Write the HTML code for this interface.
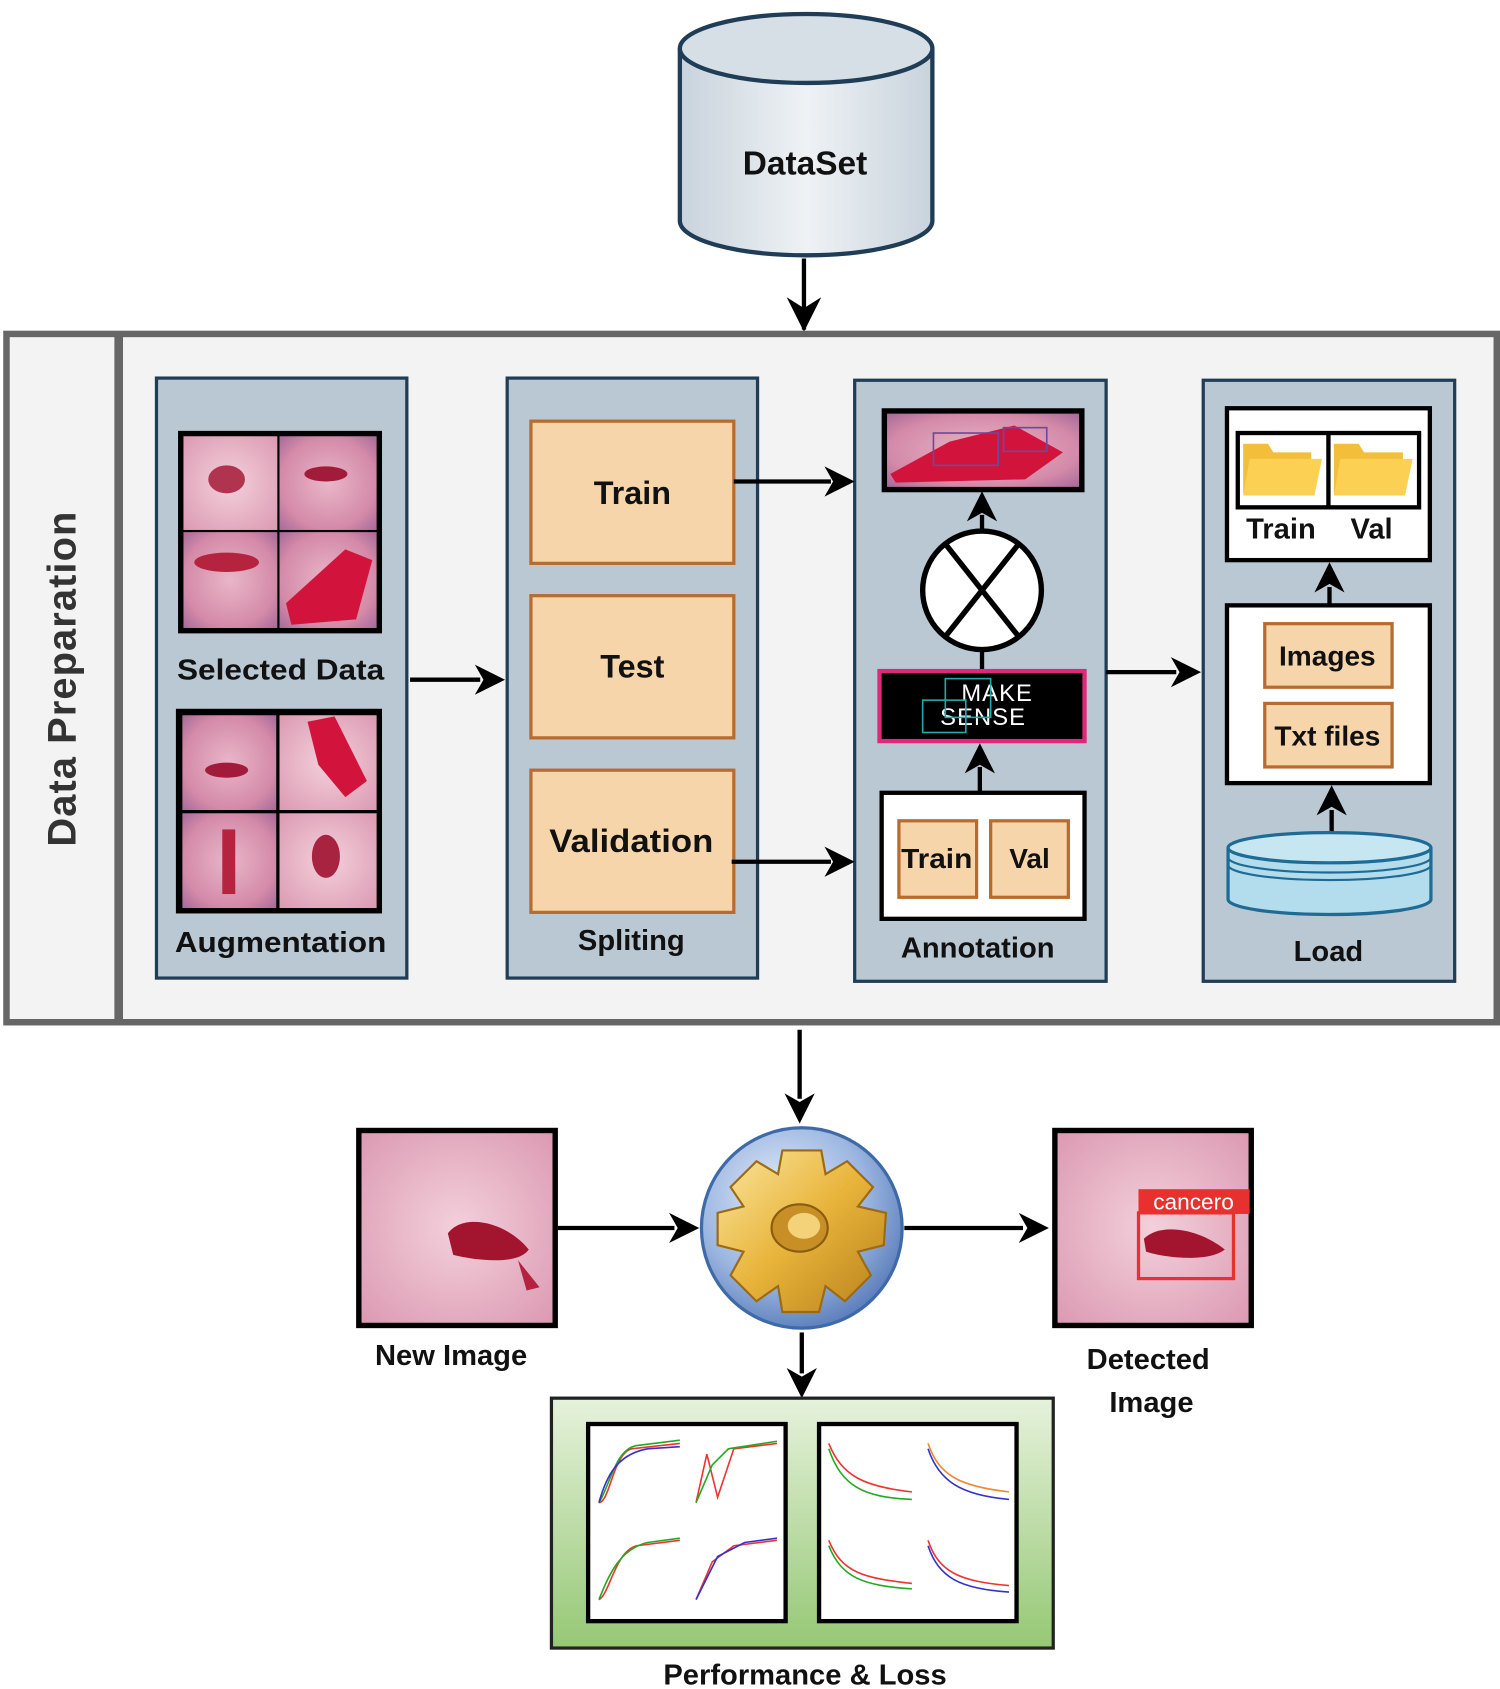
<!DOCTYPE html>
<html><head><meta charset="utf-8"><style>html,body{margin:0;padding:0;background:#fff}svg{display:block}</style></head><body>
<svg width="1500" height="1689" viewBox="0 0 1390 1568" preserveAspectRatio="none" xmlns="http://www.w3.org/2000/svg" font-family="Liberation Sans, DejaVu Sans, sans-serif" font-weight="bold">
<defs>
<linearGradient id="cyl" x1="0" x2="1"><stop offset="0" stop-color="#c9d3dc"/><stop offset="0.5" stop-color="#eef2f5"/><stop offset="1" stop-color="#c9d3dc"/></linearGradient>
<radialGradient id="pink" cx="0.5" cy="0.5" r="0.7"><stop offset="0" stop-color="#e9b6c8"/><stop offset="0.7" stop-color="#d48aa8"/><stop offset="1" stop-color="#a86a9a"/></radialGradient>
<radialGradient id="pinkL" cx="0.5" cy="0.5" r="0.7"><stop offset="0" stop-color="#f3d0db"/><stop offset="1" stop-color="#dc9ab2"/></radialGradient>
<radialGradient id="ball" cx="0.4" cy="0.35" r="0.7"><stop offset="0" stop-color="#e6eefa"/><stop offset="0.6" stop-color="#9bb6e0"/><stop offset="1" stop-color="#5679b8"/></radialGradient>
<linearGradient id="green" x1="0" y1="0" x2="0" y2="1"><stop offset="0" stop-color="#e6f2dc"/><stop offset="1" stop-color="#95c874"/></linearGradient>
<linearGradient id="gold" x1="0" y1="0" x2="1" y2="1"><stop offset="0" stop-color="#fbe7a0"/><stop offset="0.5" stop-color="#e8b43a"/><stop offset="1" stop-color="#b7801c"/></linearGradient>
<marker id="ah" markerWidth="10" markerHeight="10" refX="9" refY="5" orient="auto" markerUnits="userSpaceOnUse" viewBox="0 0 10 10"><path d="M0,0 L10,5 L0,10 L3,5z" fill="#000"/></marker>
</defs>
<style>.ar{stroke:#000;stroke-width:4;fill:none}</style>

<!-- DataSet cylinder -->
<path d="M630,45 L630,205 A117,32 0 0 0 864,205 L864,45" fill="url(#cyl)" stroke="#1f3d57" stroke-width="4"/>
<ellipse cx="747" cy="45" rx="117" ry="32" fill="#d6dee6" stroke="#1f3d57" stroke-width="4"/>
<text x="746" y="162" font-size="31" text-anchor="middle" fill="#111">DataSet</text>
<line x1="745" y1="240" x2="745" y2="306" class="ar" marker-end="url(#ah)" transform=""/>
<path d="M729,276 L745,308 L761,276 L745,286z" fill="#000"/>

<!-- Outer box -->
<rect x="6" y="310" width="1381" height="639" fill="#f3f3f3" stroke="#666" stroke-width="6"/>
<line x1="110" y1="310" x2="110" y2="949" stroke="#666" stroke-width="8"/>
<text transform="translate(70,630) rotate(-90)" font-size="37" text-anchor="middle" fill="#333" letter-spacing="1">Data Preparation</text>

<!-- panels -->
<g fill="#b9c8d3" stroke="#1f3d57" stroke-width="3">
<rect x="145" y="351" width="232" height="557"/>
<rect x="470" y="351" width="232" height="557"/>
<rect x="792" y="353" width="233" height="558"/>
<rect x="1115" y="353" width="233" height="558"/>
</g>

<!-- Selected data images -->
<rect x="165" y="400" width="189" height="188" fill="#000"/>
<rect x="170" y="405" width="87" height="87" fill="url(#pinkL)"/>
<rect x="259" y="405" width="90" height="87" fill="url(#pink)"/>
<rect x="170" y="494" width="87" height="89" fill="url(#pink)"/>
<rect x="259" y="494" width="90" height="89" fill="url(#pink)"/>
<ellipse cx="210" cy="445" rx="17" ry="13" fill="#b0334f"/>
<ellipse cx="302" cy="440" rx="20" ry="7" fill="#a31b3a"/>
<ellipse cx="210" cy="522" rx="30" ry="9" fill="#b5233f"/>
<path d="M265,560 L320,510 L345,520 L330,575 L270,580z" fill="#d2143c"/>
<rect x="163" y="658" width="191" height="190" fill="#000"/>
<rect x="169" y="664" width="87" height="88" fill="url(#pink)"/>
<rect x="259" y="664" width="90" height="88" fill="url(#pinkL)"/>
<rect x="169" y="755" width="87" height="88" fill="url(#pink)"/>
<rect x="259" y="755" width="90" height="88" fill="url(#pinkL)"/>
<ellipse cx="210" cy="715" rx="20" ry="7" fill="#a31b3a"/>
<path d="M285,670 L310,665 L340,725 L320,740 L295,710z" fill="#d2143c"/>
<rect x="206" y="770" width="12" height="60" fill="#b5233f"/>
<ellipse cx="302" cy="795" rx="13" ry="20" fill="#a8233f"/>
<text x="260" y="631" font-size="27" text-anchor="middle" fill="#111" textLength="192" lengthAdjust="spacingAndGlyphs">Selected Data</text>
<text x="260" y="884" font-size="27" text-anchor="middle" fill="#111" textLength="196" lengthAdjust="spacingAndGlyphs">Augmentation</text>

<!-- splitting -->
<g fill="#f7d5aa" stroke="#b86b2e" stroke-width="3">
<rect x="492" y="391" width="188" height="132"/>
<rect x="492" y="553" width="188" height="132"/>
<rect x="492" y="715" width="188" height="132"/>
</g>
<text x="586" y="468" font-size="30" text-anchor="middle" fill="#111">Train</text>
<text x="586" y="629" font-size="30" text-anchor="middle" fill="#111">Test</text>
<text x="585" y="791" font-size="30" text-anchor="middle" fill="#111" textLength="152" lengthAdjust="spacingAndGlyphs">Validation</text>
<text x="585" y="882" font-size="27" text-anchor="middle" fill="#111">Spliting</text>

<!-- arrows between -->
<g class="ar"><line x1="380" y1="631" x2="445" y2="631"/><line x1="680" y1="447" x2="770" y2="447"/><line x1="678" y1="800" x2="770" y2="800"/><line x1="1025" y1="624" x2="1090" y2="624"/></g>
<g fill="#000">
<path d="M440,617 L468,631 L440,645 L448,631z"/>
<path d="M764,433 L792,447 L764,461 L772,447z"/>
<path d="M764,786 L792,800 L764,814 L772,800z"/>
<path d="M1085,610 L1113,624 L1085,638 L1093,624z"/>
</g>

<!-- annotation -->
<rect x="817" y="379" width="188" height="78" fill="#000"/>
<rect x="822" y="384" width="178" height="68" fill="url(#pink)"/>
<path d="M825,440 L880,410 L940,395 L985,420 L950,445 L830,448z" fill="#d2143c"/>
<rect x="865" y="402" width="60" height="30" fill="none" stroke="#6a4aa0" stroke-width="1.5"/>
<rect x="930" y="397" width="40" height="22" fill="none" stroke="#6a4aa0" stroke-width="1.5"/>
<line x1="910" y1="622" x2="910" y2="478" class="ar"/>
<path d="M896,484 L910,456 L924,484 L910,476z" fill="#000"/>
<circle cx="910" cy="548" r="55" fill="#fff" stroke="#000" stroke-width="5"/>
<line x1="876" y1="505" x2="944" y2="591" stroke="#000" stroke-width="5"/>
<line x1="944" y1="505" x2="876" y2="591" stroke="#000" stroke-width="5"/>
<rect x="815" y="623" width="190" height="65" fill="#000" stroke="#e0287a" stroke-width="4"/>
<text x="924" y="651" font-size="22" font-weight="normal" text-anchor="middle" fill="#fff" letter-spacing="1">MAKE</text>
<text x="911" y="673" font-size="22" font-weight="normal" text-anchor="middle" fill="#fff" letter-spacing="1">SENSE</text>
<rect x="876" y="630" width="42" height="36" fill="none" stroke="#2aa" stroke-width="1.5"/>
<rect x="855" y="650" width="40" height="30" fill="none" stroke="#2aa" stroke-width="1.5"/>
<line x1="908" y1="736" x2="908" y2="712" class="ar"/>
<path d="M894,718 L908,690 L922,718 L908,710z" fill="#000"/>
<rect x="817" y="736" width="188" height="117" fill="#fff" stroke="#000" stroke-width="4"/>
<rect x="833" y="762" width="72" height="71" fill="#f7d5aa" stroke="#b86b2e" stroke-width="3"/>
<rect x="918" y="762" width="72" height="71" fill="#f7d5aa" stroke="#b86b2e" stroke-width="3"/>
<text x="868" y="806" font-size="26" text-anchor="middle" fill="#111" textLength="66" lengthAdjust="spacingAndGlyphs">Train</text>
<text x="954" y="806" font-size="26" text-anchor="middle" fill="#111">Val</text>
<text x="906" y="889" font-size="27" text-anchor="middle" fill="#111">Annotation</text>

<!-- load -->
<rect x="1137" y="379" width="188" height="141" fill="#fff" stroke="#000" stroke-width="4"/>
<rect x="1147" y="402" width="168" height="69" fill="#fff" stroke="#000" stroke-width="4"/>
<line x1="1231" y1="402" x2="1231" y2="471" stroke="#000" stroke-width="4"/>
<g fill="#f3bf3a"><path d="M1152,412 L1175,412 L1180,420 L1215,420 L1215,458 L1152,458z"/><path d="M1236,412 L1259,412 L1264,420 L1300,420 L1300,458 L1236,458z"/></g>
<g fill="#fcd052"><path d="M1158,426 L1225,426 L1218,460 L1152,460z"/><path d="M1242,426 L1309,426 L1302,460 L1236,460z"/></g>
<text x="1187" y="500" font-size="27" text-anchor="middle" fill="#111">Train</text>
<text x="1271" y="500" font-size="27" text-anchor="middle" fill="#111">Val</text>
<line x1="1232" y1="562" x2="1232" y2="545" class="ar"/>
<path d="M1218,550 L1232,522 L1246,550 L1232,542z" fill="#000"/>
<rect x="1137" y="562" width="188" height="165" fill="#fff" stroke="#000" stroke-width="4"/>
<rect x="1172" y="579" width="118" height="59" fill="#f7d5aa" stroke="#b86b2e" stroke-width="3"/>
<rect x="1172" y="653" width="118" height="59" fill="#f7d5aa" stroke="#b86b2e" stroke-width="3"/>
<text x="1230" y="618" font-size="26" text-anchor="middle" fill="#111">Images</text>
<text x="1230" y="692" font-size="26" text-anchor="middle" fill="#111">Txt files</text>
<line x1="1234" y1="772" x2="1234" y2="752" class="ar"/>
<path d="M1220,757 L1234,729 L1248,757 L1234,749z" fill="#000"/>
<path d="M1138,787 L1138,835 A94,14 0 0 0 1326,835 L1326,787" fill="#b3dcec" stroke="#1e6b95" stroke-width="3"/>
<ellipse cx="1232" cy="787" rx="94" ry="14" fill="#c6e6f2" stroke="#1e6b95" stroke-width="3"/>
<path d="M1138,796 A94,14 0 0 0 1326,796" fill="none" stroke="#1e6b95" stroke-width="2"/>
<path d="M1138,803 A94,14 0 0 0 1326,803" fill="none" stroke="#1e6b95" stroke-width="2"/>
<text x="1231" y="892" font-size="27" text-anchor="middle" fill="#111">Load</text>

<!-- lower -->
<line x1="741" y1="956" x2="741" y2="1020" class="ar"/>
<path d="M727,1015 L741,1043 L755,1015 L741,1023z" fill="#000"/>
<rect x="330" y="1047" width="187" height="186" fill="#000"/>
<rect x="335" y="1052" width="177" height="176" fill="url(#pinkL)"/>
<path d="M415,1145 C430,1125 470,1135 490,1160 C480,1175 440,1170 420,1165z" fill="#a3142f"/>
<path d="M480,1170 L500,1195 L488,1198z" fill="#b3233f"/>
<text x="418" y="1267" font-size="27" text-anchor="middle" fill="#111">New Image</text>
<line x1="517" y1="1140" x2="625" y2="1140" class="ar"/>
<path d="M620,1126 L648,1140 L620,1154 L628,1140z" fill="#000"/>
<circle cx="743" cy="1140" r="93" fill="url(#ball)" stroke="#3f6aa8" stroke-width="3"/>
<g transform="translate(743,1140)">
<path d="M-18,-72 L18,-72 L22,-50 L42,-62 L66,-38 L52,-20 L78,-14 L76,16 L52,22 L64,44 L40,68 L22,54 L16,78 L-18,78 L-22,54 L-42,68 L-66,44 L-54,22 L-78,16 L-78,-14 L-54,-20 L-66,-38 L-42,-62 L-22,-50z" fill="url(#gold)" stroke="#9b6a12" stroke-width="2"/>
<ellipse cx="-2" cy="0" rx="26" ry="22" fill="#c78f26" stroke="#8a5c10" stroke-width="2"/>
<ellipse cx="2" cy="-2" rx="15" ry="12" fill="#f4d27a"/>
</g>
<line x1="838" y1="1140" x2="948" y2="1140" class="ar"/>
<path d="M944,1126 L972,1140 L944,1154 L952,1140z" fill="#000"/>
<rect x="975" y="1047" width="187" height="186" fill="#000"/>
<rect x="980" y="1052" width="177" height="176" fill="url(#pinkL)"/>
<path d="M1060,1150 C1075,1135 1110,1140 1135,1160 C1120,1172 1080,1168 1062,1162z" fill="#a3142f"/>
<rect x="1055" y="1126" width="88" height="61" fill="none" stroke="#e8312f" stroke-width="3"/>
<rect x="1055" y="1104" width="103" height="23" fill="#e8312f"/>
<text x="1106" y="1123" font-size="21" font-weight="normal" text-anchor="middle" fill="#fff">cancero</text>
<text x="1064" y="1271" font-size="27" text-anchor="middle" fill="#111">Detected</text>
<text x="1067" y="1311" font-size="27" text-anchor="middle" fill="#111">Image</text>
<line x1="743" y1="1237" x2="743" y2="1275" class="ar"/>
<path d="M729,1270 L743,1298 L757,1270 L743,1278z" fill="#000"/>
<rect x="511" y="1298" width="465" height="232" fill="url(#green)" stroke="#222" stroke-width="3"/>
<rect x="545" y="1322" width="183" height="183" fill="#fff" stroke="#000" stroke-width="4"/>
<rect x="759" y="1322" width="183" height="183" fill="#fff" stroke="#000" stroke-width="4"/>
<g fill="none" stroke-width="1.5">
<path d="M555,1395 C565,1395 568,1350 585,1345 L630,1340" stroke="#e33"/>
<path d="M555,1395 C565,1380 570,1345 590,1342 L630,1337" stroke="#2a2"/>
<path d="M555,1395 C562,1370 572,1350 600,1345 L630,1343" stroke="#33c"/>
<path d="M645,1395 L655,1350 L665,1390 L680,1345 L720,1340" stroke="#e33"/>
<path d="M645,1395 L660,1360 L675,1345 L720,1338" stroke="#2a2"/>
<path d="M555,1485 C565,1480 570,1440 590,1435 L630,1430" stroke="#e33"/>
<path d="M555,1485 C565,1460 575,1438 600,1432 L630,1428" stroke="#2a2"/>
<path d="M645,1485 L660,1450 L680,1435 L720,1430" stroke="#e33"/>
<path d="M645,1485 L665,1445 L690,1432 L720,1428" stroke="#33c"/>
<path d="M768,1340 C780,1370 800,1380 845,1385" stroke="#e33"/>
<path d="M768,1345 C780,1380 800,1390 845,1392" stroke="#2a2"/>
<path d="M860,1340 C870,1370 890,1380 935,1385" stroke="#e83"/>
<path d="M860,1345 C870,1375 890,1388 935,1392" stroke="#33c"/>
<path d="M768,1430 C780,1460 800,1465 845,1470" stroke="#e33"/>
<path d="M768,1435 C780,1465 800,1472 845,1475" stroke="#2a2"/>
<path d="M860,1430 C870,1460 890,1468 935,1472" stroke="#e33"/>
<path d="M860,1435 C870,1465 890,1475 935,1478" stroke="#33c"/>
</g>
<text x="746" y="1564" font-size="27" text-anchor="middle" fill="#111">Performance &amp; Loss</text>
</svg>
</body></html>
